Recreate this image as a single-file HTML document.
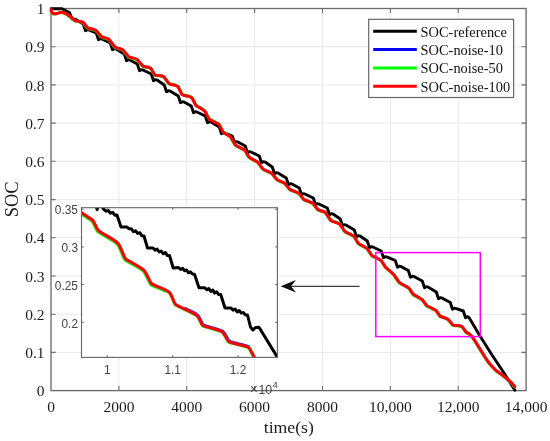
<!DOCTYPE html>
<html lang="en"><head><meta charset="utf-8"><title>SOC estimation under noise</title>
<style>
html,body{margin:0;padding:0;background:#fff;}
body{width:550px;height:441px;overflow:hidden;position:relative;font-family:"Liberation Serif","Times New Roman",serif;}
svg text{white-space:pre;}
</style></head><body>
<svg width="550" height="441" viewBox="0 0 550 441" style="position:absolute;left:0;top:0">
<rect x="0" y="0" width="550" height="441" fill="#fff"/>
<path d="M118.9 8.5 V390.6 M186.7 8.5 V390.6 M254.6 8.5 V390.6 M322.5 8.5 V390.6 M390.4 8.5 V390.6 M458.2 8.5 V390.6 M51.0 352.4 H526.1 M51.0 314.2 H526.1 M51.0 276.0 H526.1 M51.0 237.8 H526.1 M51.0 199.6 H526.1 M51.0 161.3 H526.1 M51.0 123.1 H526.1 M51.0 84.9 H526.1 M51.0 46.7 H526.1" stroke="#e8e8e8" stroke-width="1" fill="none"/>
<rect x="51.0" y="8.5" width="475.1" height="382.1" fill="none" stroke="#6c6c6c" stroke-width="1.35"/>
<path d="M118.9 390.6 v-4.6 M118.9 8.5 v4.6 M186.7 390.6 v-4.6 M186.7 8.5 v4.6 M254.6 390.6 v-4.6 M254.6 8.5 v4.6 M322.5 390.6 v-4.6 M322.5 8.5 v4.6 M390.4 390.6 v-4.6 M390.4 8.5 v4.6 M458.2 390.6 v-4.6 M458.2 8.5 v4.6 M51.0 352.4 h4.6 M526.1 352.4 h-4.6 M51.0 314.2 h4.6 M526.1 314.2 h-4.6 M51.0 276.0 h4.6 M526.1 276.0 h-4.6 M51.0 237.8 h4.6 M526.1 237.8 h-4.6 M51.0 199.6 h4.6 M526.1 199.6 h-4.6 M51.0 161.3 h4.6 M526.1 161.3 h-4.6 M51.0 123.1 h4.6 M526.1 123.1 h-4.6 M51.0 84.9 h4.6 M526.1 84.9 h-4.6 M51.0 46.7 h4.6 M526.1 46.7 h-4.6" stroke="#6c6c6c" stroke-width="1.1" fill="none"/>
<defs><clipPath id="cm"><rect x="51.0" y="7.0" width="475.1" height="384.6"/></clipPath><clipPath id="cgA"><rect x="0" y="0" width="172" height="441"/><rect x="230" y="0" width="100" height="441"/><rect x="342" y="0" width="208" height="441"/></clipPath><clipPath id="cgB"><rect x="172" y="0" width="58" height="441"/><rect x="330" y="0" width="12" height="441"/></clipPath><clipPath id="ciL"><rect x="81.5" y="207.4" width="83.5" height="150"/></clipPath><clipPath id="ciR"><rect x="165" y="207.4" width="112.5" height="150"/></clipPath><clipPath id="ciB"><rect x="185" y="207.4" width="65" height="150"/></clipPath><clipPath id="ci"><rect x="81.5" y="207.7" width="195.9" height="149.7"/></clipPath></defs>
<g fill="none" stroke-linejoin="round" stroke-linecap="round">
<path d="M51.2 8.8 L62.0 8.8 L69.5 12.5 L72.0 19.0 L75.4 19.2 L83.3 24.0 L85.5 30.7 L87.2 29.7 L89.4 30.2 L96.3 33.0 L98.5 39.7 L100.2 38.7 L102.4 39.2 L110.3 43.0 L112.5 49.7 L114.2 48.7 L116.4 49.2 L124.3 54.0 L126.5 60.7 L128.2 59.7 L130.4 60.2 L137.3 64.0 L139.5 70.7 L141.2 69.7 L143.4 70.2 L151.3 74.0 L153.5 80.7 L155.2 79.7 L157.4 80.2 L164.3 85.0 L166.5 91.7 L168.2 90.7 L170.4 91.2 L178.3 96.0 L180.5 102.7 L182.2 101.7 L184.4 102.2 L191.3 106.0 L193.5 112.7 L195.2 111.7 L197.4 112.2 L205.3 116.0 L207.5 122.7 L209.2 121.7 L211.4 122.2 L219.3 127.0 L221.5 133.7 L223.2 132.7 L225.4 133.2 L232.3 136.0 L234.5 142.7 L236.2 141.7 L238.4 142.2 L245.3 146.0 L247.5 152.7 L249.2 151.7 L251.4 152.2 L259.3 156.0 L261.5 162.7 L263.2 161.7 L265.4 162.2 L272.3 167.0 L274.5 173.7 L276.2 172.7 L278.4 173.2 L286.3 178.0 L288.5 184.7 L290.2 183.7 L292.4 184.2 L299.3 188.0 L301.5 194.7 L303.2 193.7 L305.4 194.2 L313.3 198.0 L315.5 204.7 L317.2 203.7 L319.4 204.2 L327.3 208.0 L329.5 214.7 L331.2 213.7 L333.4 214.2 L340.3 219.0 L342.5 225.7 L344.2 224.7 L346.4 225.2 L354.3 230.0 L356.5 236.7 L358.2 235.7 L360.4 236.2 L367.3 241.0 L369.5 247.7 L371.2 246.7 L373.4 247.2 L381.3 251.0 L383.5 257.7 L385.2 256.7 L387.4 257.2 L395.3 260.5 L397.5 267.2 L399.2 266.2 L401.4 266.7 L408.3 270.5 L410.5 277.2 L412.2 276.2 L414.4 276.7 L422.3 281.0 L424.5 287.7 L426.2 286.7 L428.4 287.2 L436.3 292.0 L438.5 298.7 L440.2 297.7 L442.4 298.2 L450.3 302.5 L452.5 309.2 L454.2 308.2 L456.4 308.7 L463.3 311.0 L465.5 317.7 L467.2 316.7 L469.0 317.5 L480.0 336.0 L492.0 355.0 L504.0 373.0 L514.9 390.3" stroke="#000" stroke-width="2.9"/>
<path d="M51.2 9.6 C51.3 9.9 51.5 12.0 51.8 12.4 C52.1 12.8 53.5 13.6 54.0 13.7 C54.5 13.8 56.5 13.6 57.0 13.5 C57.5 13.4 59.0 12.7 59.5 12.6 C60.0 12.5 61.4 12.1 62.0 12.2 C62.6 12.3 65.1 13.1 66.0 13.6 C66.9 14.1 70.1 16.3 71.0 17.0 C71.9 17.7 74.2 20.2 75.0 20.6 C75.8 21.0 78.2 21.2 79.0 21.4 C79.8 21.6 82.1 21.6 83.0 22.3 C83.9 23.0 87.1 27.3 88.0 28.0 C88.9 28.7 91.2 28.8 92.0 29.0 C92.8 29.2 95.0 29.5 96.0 30.3 C97.0 31.1 101.0 36.2 102.0 37.0 C103.0 37.8 104.8 37.8 105.5 38.0 C106.2 38.2 108.0 38.4 109.0 39.3 C110.0 40.2 114.0 46.1 115.0 47.0 C116.0 47.9 118.2 48.2 119.0 48.5 C119.8 48.8 122.0 49.1 123.0 50.0 C124.0 50.9 128.0 56.2 129.0 57.0 C130.0 57.8 132.2 57.8 133.0 58.0 C133.8 58.2 136.0 58.5 137.0 59.3 C138.0 60.1 142.0 65.2 143.0 66.0 C144.0 66.8 146.2 66.8 147.0 67.0 C147.8 67.2 150.2 67.7 151.0 68.5 C151.8 69.3 154.1 74.3 155.0 75.0 C155.9 75.7 159.1 75.4 160.0 75.6 C160.9 75.8 163.1 76.0 164.0 76.8 C164.9 77.6 168.0 82.7 169.0 83.5 C170.0 84.3 173.1 84.7 174.0 85.0 C174.9 85.3 177.2 85.8 178.0 86.8 C178.8 87.8 181.1 93.6 182.0 94.5 C182.9 95.4 186.0 95.7 187.0 96.0 C188.0 96.3 191.1 97.0 192.0 98.0 C192.9 99.0 195.1 104.5 196.0 105.5 C196.9 106.5 200.1 107.9 201.0 108.5 C201.9 109.1 204.2 110.5 205.0 111.5 C205.8 112.5 208.1 118.0 209.0 119.0 C209.9 120.0 213.0 121.2 214.0 121.8 C215.0 122.3 218.1 123.5 219.0 124.5 C219.9 125.5 222.2 131.0 223.0 132.0 C223.8 133.0 226.2 134.1 227.0 134.7 C227.8 135.2 230.2 136.5 231.0 137.5 C231.8 138.5 234.6 144.0 235.5 145.0 C236.4 146.0 239.1 147.0 240.0 147.5 C240.9 148.0 244.1 149.4 245.0 150.3 C245.9 151.2 248.1 156.0 249.0 157.0 C249.9 158.0 253.1 159.5 254.0 160.0 C254.9 160.5 257.1 161.5 258.0 162.4 C258.9 163.3 262.0 168.1 263.0 169.0 C264.0 169.9 267.1 171.0 268.0 171.4 C268.9 171.8 271.1 172.7 272.0 173.5 C272.9 174.3 276.1 178.7 277.0 179.5 C277.9 180.3 280.2 181.1 281.0 181.5 C281.8 181.9 284.1 182.7 285.0 183.5 C285.9 184.3 289.0 188.7 290.0 189.5 C291.0 190.3 294.1 191.1 295.0 191.5 C295.9 191.9 298.1 192.7 299.0 193.5 C299.9 194.3 303.0 198.7 304.0 199.5 C305.0 200.3 308.1 201.1 309.0 201.5 C309.9 201.9 312.1 202.7 313.0 203.5 C313.9 204.3 317.1 208.8 318.0 209.5 C318.9 210.2 321.2 210.7 322.0 211.0 C322.8 211.3 324.6 211.7 325.5 212.6 C326.4 213.5 329.9 219.5 331.0 220.5 C332.1 221.5 335.1 222.1 336.0 222.5 C336.9 222.9 339.1 223.6 340.0 224.5 C340.9 225.4 344.0 230.6 345.0 231.5 C346.0 232.4 349.1 233.5 350.0 234.0 C350.9 234.5 353.1 235.4 354.0 236.3 C354.9 237.2 357.6 242.5 358.5 243.5 C359.4 244.5 362.1 245.5 363.0 246.0 C363.9 246.5 366.1 247.4 367.0 248.3 C367.9 249.2 371.0 254.5 372.0 255.5 C373.0 256.5 376.1 257.5 377.0 258.0 C377.9 258.5 380.1 259.4 381.0 260.3 C381.9 261.2 384.6 265.9 385.5 267.0 C386.4 268.1 389.1 270.2 390.0 271.0 C390.9 271.8 393.1 273.7 394.0 274.8 C394.9 275.9 398.0 281.0 399.0 282.0 C400.0 283.0 403.0 284.6 404.0 285.2 C405.0 285.8 408.1 287.3 409.0 288.2 C409.9 289.1 412.1 293.1 413.0 294.0 C413.9 294.9 417.1 296.5 418.0 297.0 C418.9 297.5 421.1 298.5 422.0 299.3 C422.9 300.1 425.6 304.4 426.5 305.3 C427.4 306.2 430.1 307.3 431.0 307.8 C431.9 308.3 435.1 309.5 436.0 310.3 C436.9 311.1 439.2 315.3 440.0 316.0 C440.8 316.7 443.2 317.2 444.0 317.5 C444.8 317.8 447.1 318.4 448.0 319.2 C448.9 319.9 452.1 324.4 453.0 325.0 C453.9 325.6 456.1 325.4 457.0 325.5 C457.9 325.6 461.1 325.9 462.0 326.5 C462.9 327.1 465.3 331.3 466.0 332.0 C466.7 332.7 468.4 333.2 469.0 333.6 C469.6 334.1 471.3 335.6 472.0 336.5 C472.7 337.4 475.2 341.2 476.0 342.5 C476.8 343.8 479.1 347.6 480.0 349.0 C480.9 350.4 484.0 355.5 485.0 357.0 C486.0 358.5 488.9 362.7 490.0 364.0 C491.1 365.3 495.0 369.4 496.0 370.3 C497.0 371.2 499.2 372.7 500.0 373.3 C500.8 373.9 503.1 375.6 504.0 376.3 C504.9 377.0 508.2 379.8 509.0 380.5 C509.8 381.2 511.4 382.6 512.0 383.2 C512.6 383.8 514.5 386.3 514.8 386.6" stroke="#1a1ae6" stroke-width="2.4"/>
<g clip-path="url(#cgA)"><path d="M51.2 9.6 C51.3 9.9 51.5 12.0 51.8 12.4 C52.1 12.8 53.5 13.6 54.0 13.7 C54.5 13.8 56.5 13.6 57.0 13.5 C57.5 13.4 59.0 12.7 59.5 12.6 C60.0 12.5 61.4 12.1 62.0 12.2 C62.6 12.3 65.1 13.1 66.0 13.6 C66.9 14.1 70.1 16.3 71.0 17.0 C71.9 17.7 74.2 20.2 75.0 20.6 C75.8 21.0 78.2 21.2 79.0 21.4 C79.8 21.6 82.1 21.6 83.0 22.3 C83.9 23.0 87.1 27.3 88.0 28.0 C88.9 28.7 91.2 28.8 92.0 29.0 C92.8 29.2 95.0 29.5 96.0 30.3 C97.0 31.1 101.0 36.2 102.0 37.0 C103.0 37.8 104.8 37.8 105.5 38.0 C106.2 38.2 108.0 38.4 109.0 39.3 C110.0 40.2 114.0 46.1 115.0 47.0 C116.0 47.9 118.2 48.2 119.0 48.5 C119.8 48.8 122.0 49.1 123.0 50.0 C124.0 50.9 128.0 56.2 129.0 57.0 C130.0 57.8 132.2 57.8 133.0 58.0 C133.8 58.2 136.0 58.5 137.0 59.3 C138.0 60.1 142.0 65.2 143.0 66.0 C144.0 66.8 146.2 66.8 147.0 67.0 C147.8 67.2 150.2 67.7 151.0 68.5 C151.8 69.3 154.1 74.3 155.0 75.0 C155.9 75.7 159.1 75.4 160.0 75.6 C160.9 75.8 163.1 76.0 164.0 76.8 C164.9 77.6 168.0 82.7 169.0 83.5 C170.0 84.3 173.1 84.7 174.0 85.0 C174.9 85.3 177.2 85.8 178.0 86.8 C178.8 87.8 181.1 93.6 182.0 94.5 C182.9 95.4 186.0 95.7 187.0 96.0 C188.0 96.3 191.1 97.0 192.0 98.0 C192.9 99.0 195.1 104.5 196.0 105.5 C196.9 106.5 200.1 107.9 201.0 108.5 C201.9 109.1 204.2 110.5 205.0 111.5 C205.8 112.5 208.1 118.0 209.0 119.0 C209.9 120.0 213.0 121.2 214.0 121.8 C215.0 122.3 218.1 123.5 219.0 124.5 C219.9 125.5 222.2 131.0 223.0 132.0 C223.8 133.0 226.2 134.1 227.0 134.7 C227.8 135.2 230.2 136.5 231.0 137.5 C231.8 138.5 234.6 144.0 235.5 145.0 C236.4 146.0 239.1 147.0 240.0 147.5 C240.9 148.0 244.1 149.4 245.0 150.3 C245.9 151.2 248.1 156.0 249.0 157.0 C249.9 158.0 253.1 159.5 254.0 160.0 C254.9 160.5 257.1 161.5 258.0 162.4 C258.9 163.3 262.0 168.1 263.0 169.0 C264.0 169.9 267.1 171.0 268.0 171.4 C268.9 171.8 271.1 172.7 272.0 173.5 C272.9 174.3 276.1 178.7 277.0 179.5 C277.9 180.3 280.2 181.1 281.0 181.5 C281.8 181.9 284.1 182.7 285.0 183.5 C285.9 184.3 289.0 188.7 290.0 189.5 C291.0 190.3 294.1 191.1 295.0 191.5 C295.9 191.9 298.1 192.7 299.0 193.5 C299.9 194.3 303.0 198.7 304.0 199.5 C305.0 200.3 308.1 201.1 309.0 201.5 C309.9 201.9 312.1 202.7 313.0 203.5 C313.9 204.3 317.1 208.8 318.0 209.5 C318.9 210.2 321.2 210.7 322.0 211.0 C322.8 211.3 324.6 211.7 325.5 212.6 C326.4 213.5 329.9 219.5 331.0 220.5 C332.1 221.5 335.1 222.1 336.0 222.5 C336.9 222.9 339.1 223.6 340.0 224.5 C340.9 225.4 344.0 230.6 345.0 231.5 C346.0 232.4 349.1 233.5 350.0 234.0 C350.9 234.5 353.1 235.4 354.0 236.3 C354.9 237.2 357.6 242.5 358.5 243.5 C359.4 244.5 362.1 245.5 363.0 246.0 C363.9 246.5 366.1 247.4 367.0 248.3 C367.9 249.2 371.0 254.5 372.0 255.5 C373.0 256.5 376.1 257.5 377.0 258.0 C377.9 258.5 380.1 259.4 381.0 260.3 C381.9 261.2 384.6 265.9 385.5 267.0 C386.4 268.1 389.1 270.2 390.0 271.0 C390.9 271.8 393.1 273.7 394.0 274.8 C394.9 275.9 398.0 281.0 399.0 282.0 C400.0 283.0 403.0 284.6 404.0 285.2 C405.0 285.8 408.1 287.3 409.0 288.2 C409.9 289.1 412.1 293.1 413.0 294.0 C413.9 294.9 417.1 296.5 418.0 297.0 C418.9 297.5 421.1 298.5 422.0 299.3 C422.9 300.1 425.6 304.4 426.5 305.3 C427.4 306.2 430.1 307.3 431.0 307.8 C431.9 308.3 435.1 309.5 436.0 310.3 C436.9 311.1 439.2 315.3 440.0 316.0 C440.8 316.7 443.2 317.2 444.0 317.5 C444.8 317.8 447.1 318.4 448.0 319.2 C448.9 319.9 452.1 324.4 453.0 325.0 C453.9 325.6 456.1 325.4 457.0 325.5 C457.9 325.6 461.1 325.9 462.0 326.5 C462.9 327.1 465.3 331.3 466.0 332.0 C466.7 332.7 468.4 333.2 469.0 333.6 C469.6 334.1 471.3 335.6 472.0 336.5 C472.7 337.4 475.2 341.2 476.0 342.5 C476.8 343.8 479.1 347.6 480.0 349.0 C480.9 350.4 484.0 355.5 485.0 357.0 C486.0 358.5 488.9 362.7 490.0 364.0 C491.1 365.3 495.0 369.4 496.0 370.3 C497.0 371.2 499.2 372.7 500.0 373.3 C500.8 373.9 503.1 375.6 504.0 376.3 C504.9 377.0 508.2 379.8 509.0 380.5 C509.8 381.2 511.4 382.6 512.0 383.2 C512.6 383.8 514.5 386.3 514.8 386.6" stroke="#2fe02f" stroke-width="2.6" transform="translate(-0.35,0.5)"/></g>
<g clip-path="url(#cgB)"><path d="M51.2 9.6 C51.3 9.9 51.5 12.0 51.8 12.4 C52.1 12.8 53.5 13.6 54.0 13.7 C54.5 13.8 56.5 13.6 57.0 13.5 C57.5 13.4 59.0 12.7 59.5 12.6 C60.0 12.5 61.4 12.1 62.0 12.2 C62.6 12.3 65.1 13.1 66.0 13.6 C66.9 14.1 70.1 16.3 71.0 17.0 C71.9 17.7 74.2 20.2 75.0 20.6 C75.8 21.0 78.2 21.2 79.0 21.4 C79.8 21.6 82.1 21.6 83.0 22.3 C83.9 23.0 87.1 27.3 88.0 28.0 C88.9 28.7 91.2 28.8 92.0 29.0 C92.8 29.2 95.0 29.5 96.0 30.3 C97.0 31.1 101.0 36.2 102.0 37.0 C103.0 37.8 104.8 37.8 105.5 38.0 C106.2 38.2 108.0 38.4 109.0 39.3 C110.0 40.2 114.0 46.1 115.0 47.0 C116.0 47.9 118.2 48.2 119.0 48.5 C119.8 48.8 122.0 49.1 123.0 50.0 C124.0 50.9 128.0 56.2 129.0 57.0 C130.0 57.8 132.2 57.8 133.0 58.0 C133.8 58.2 136.0 58.5 137.0 59.3 C138.0 60.1 142.0 65.2 143.0 66.0 C144.0 66.8 146.2 66.8 147.0 67.0 C147.8 67.2 150.2 67.7 151.0 68.5 C151.8 69.3 154.1 74.3 155.0 75.0 C155.9 75.7 159.1 75.4 160.0 75.6 C160.9 75.8 163.1 76.0 164.0 76.8 C164.9 77.6 168.0 82.7 169.0 83.5 C170.0 84.3 173.1 84.7 174.0 85.0 C174.9 85.3 177.2 85.8 178.0 86.8 C178.8 87.8 181.1 93.6 182.0 94.5 C182.9 95.4 186.0 95.7 187.0 96.0 C188.0 96.3 191.1 97.0 192.0 98.0 C192.9 99.0 195.1 104.5 196.0 105.5 C196.9 106.5 200.1 107.9 201.0 108.5 C201.9 109.1 204.2 110.5 205.0 111.5 C205.8 112.5 208.1 118.0 209.0 119.0 C209.9 120.0 213.0 121.2 214.0 121.8 C215.0 122.3 218.1 123.5 219.0 124.5 C219.9 125.5 222.2 131.0 223.0 132.0 C223.8 133.0 226.2 134.1 227.0 134.7 C227.8 135.2 230.2 136.5 231.0 137.5 C231.8 138.5 234.6 144.0 235.5 145.0 C236.4 146.0 239.1 147.0 240.0 147.5 C240.9 148.0 244.1 149.4 245.0 150.3 C245.9 151.2 248.1 156.0 249.0 157.0 C249.9 158.0 253.1 159.5 254.0 160.0 C254.9 160.5 257.1 161.5 258.0 162.4 C258.9 163.3 262.0 168.1 263.0 169.0 C264.0 169.9 267.1 171.0 268.0 171.4 C268.9 171.8 271.1 172.7 272.0 173.5 C272.9 174.3 276.1 178.7 277.0 179.5 C277.9 180.3 280.2 181.1 281.0 181.5 C281.8 181.9 284.1 182.7 285.0 183.5 C285.9 184.3 289.0 188.7 290.0 189.5 C291.0 190.3 294.1 191.1 295.0 191.5 C295.9 191.9 298.1 192.7 299.0 193.5 C299.9 194.3 303.0 198.7 304.0 199.5 C305.0 200.3 308.1 201.1 309.0 201.5 C309.9 201.9 312.1 202.7 313.0 203.5 C313.9 204.3 317.1 208.8 318.0 209.5 C318.9 210.2 321.2 210.7 322.0 211.0 C322.8 211.3 324.6 211.7 325.5 212.6 C326.4 213.5 329.9 219.5 331.0 220.5 C332.1 221.5 335.1 222.1 336.0 222.5 C336.9 222.9 339.1 223.6 340.0 224.5 C340.9 225.4 344.0 230.6 345.0 231.5 C346.0 232.4 349.1 233.5 350.0 234.0 C350.9 234.5 353.1 235.4 354.0 236.3 C354.9 237.2 357.6 242.5 358.5 243.5 C359.4 244.5 362.1 245.5 363.0 246.0 C363.9 246.5 366.1 247.4 367.0 248.3 C367.9 249.2 371.0 254.5 372.0 255.5 C373.0 256.5 376.1 257.5 377.0 258.0 C377.9 258.5 380.1 259.4 381.0 260.3 C381.9 261.2 384.6 265.9 385.5 267.0 C386.4 268.1 389.1 270.2 390.0 271.0 C390.9 271.8 393.1 273.7 394.0 274.8 C394.9 275.9 398.0 281.0 399.0 282.0 C400.0 283.0 403.0 284.6 404.0 285.2 C405.0 285.8 408.1 287.3 409.0 288.2 C409.9 289.1 412.1 293.1 413.0 294.0 C413.9 294.9 417.1 296.5 418.0 297.0 C418.9 297.5 421.1 298.5 422.0 299.3 C422.9 300.1 425.6 304.4 426.5 305.3 C427.4 306.2 430.1 307.3 431.0 307.8 C431.9 308.3 435.1 309.5 436.0 310.3 C436.9 311.1 439.2 315.3 440.0 316.0 C440.8 316.7 443.2 317.2 444.0 317.5 C444.8 317.8 447.1 318.4 448.0 319.2 C448.9 319.9 452.1 324.4 453.0 325.0 C453.9 325.6 456.1 325.4 457.0 325.5 C457.9 325.6 461.1 325.9 462.0 326.5 C462.9 327.1 465.3 331.3 466.0 332.0 C466.7 332.7 468.4 333.2 469.0 333.6 C469.6 334.1 471.3 335.6 472.0 336.5 C472.7 337.4 475.2 341.2 476.0 342.5 C476.8 343.8 479.1 347.6 480.0 349.0 C480.9 350.4 484.0 355.5 485.0 357.0 C486.0 358.5 488.9 362.7 490.0 364.0 C491.1 365.3 495.0 369.4 496.0 370.3 C497.0 371.2 499.2 372.7 500.0 373.3 C500.8 373.9 503.1 375.6 504.0 376.3 C504.9 377.0 508.2 379.8 509.0 380.5 C509.8 381.2 511.4 382.6 512.0 383.2 C512.6 383.8 514.5 386.3 514.8 386.6" stroke="#2fe02f" stroke-width="2.6" transform="translate(0.3,-0.55)"/></g>
<path d="M51.2 9.6 C51.3 9.9 51.5 12.0 51.8 12.4 C52.1 12.8 53.5 13.6 54.0 13.7 C54.5 13.8 56.5 13.6 57.0 13.5 C57.5 13.4 59.0 12.7 59.5 12.6 C60.0 12.5 61.4 12.1 62.0 12.2 C62.6 12.3 65.1 13.1 66.0 13.6 C66.9 14.1 70.1 16.3 71.0 17.0 C71.9 17.7 74.2 20.2 75.0 20.6 C75.8 21.0 78.2 21.2 79.0 21.4 C79.8 21.6 82.1 21.6 83.0 22.3 C83.9 23.0 87.1 27.3 88.0 28.0 C88.9 28.7 91.2 28.8 92.0 29.0 C92.8 29.2 95.0 29.5 96.0 30.3 C97.0 31.1 101.0 36.2 102.0 37.0 C103.0 37.8 104.8 37.8 105.5 38.0 C106.2 38.2 108.0 38.4 109.0 39.3 C110.0 40.2 114.0 46.1 115.0 47.0 C116.0 47.9 118.2 48.2 119.0 48.5 C119.8 48.8 122.0 49.1 123.0 50.0 C124.0 50.9 128.0 56.2 129.0 57.0 C130.0 57.8 132.2 57.8 133.0 58.0 C133.8 58.2 136.0 58.5 137.0 59.3 C138.0 60.1 142.0 65.2 143.0 66.0 C144.0 66.8 146.2 66.8 147.0 67.0 C147.8 67.2 150.2 67.7 151.0 68.5 C151.8 69.3 154.1 74.3 155.0 75.0 C155.9 75.7 159.1 75.4 160.0 75.6 C160.9 75.8 163.1 76.0 164.0 76.8 C164.9 77.6 168.0 82.7 169.0 83.5 C170.0 84.3 173.1 84.7 174.0 85.0 C174.9 85.3 177.2 85.8 178.0 86.8 C178.8 87.8 181.1 93.6 182.0 94.5 C182.9 95.4 186.0 95.7 187.0 96.0 C188.0 96.3 191.1 97.0 192.0 98.0 C192.9 99.0 195.1 104.5 196.0 105.5 C196.9 106.5 200.1 107.9 201.0 108.5 C201.9 109.1 204.2 110.5 205.0 111.5 C205.8 112.5 208.1 118.0 209.0 119.0 C209.9 120.0 213.0 121.2 214.0 121.8 C215.0 122.3 218.1 123.5 219.0 124.5 C219.9 125.5 222.2 131.0 223.0 132.0 C223.8 133.0 226.2 134.1 227.0 134.7 C227.8 135.2 230.2 136.5 231.0 137.5 C231.8 138.5 234.6 144.0 235.5 145.0 C236.4 146.0 239.1 147.0 240.0 147.5 C240.9 148.0 244.1 149.4 245.0 150.3 C245.9 151.2 248.1 156.0 249.0 157.0 C249.9 158.0 253.1 159.5 254.0 160.0 C254.9 160.5 257.1 161.5 258.0 162.4 C258.9 163.3 262.0 168.1 263.0 169.0 C264.0 169.9 267.1 171.0 268.0 171.4 C268.9 171.8 271.1 172.7 272.0 173.5 C272.9 174.3 276.1 178.7 277.0 179.5 C277.9 180.3 280.2 181.1 281.0 181.5 C281.8 181.9 284.1 182.7 285.0 183.5 C285.9 184.3 289.0 188.7 290.0 189.5 C291.0 190.3 294.1 191.1 295.0 191.5 C295.9 191.9 298.1 192.7 299.0 193.5 C299.9 194.3 303.0 198.7 304.0 199.5 C305.0 200.3 308.1 201.1 309.0 201.5 C309.9 201.9 312.1 202.7 313.0 203.5 C313.9 204.3 317.1 208.8 318.0 209.5 C318.9 210.2 321.2 210.7 322.0 211.0 C322.8 211.3 324.6 211.7 325.5 212.6 C326.4 213.5 329.9 219.5 331.0 220.5 C332.1 221.5 335.1 222.1 336.0 222.5 C336.9 222.9 339.1 223.6 340.0 224.5 C340.9 225.4 344.0 230.6 345.0 231.5 C346.0 232.4 349.1 233.5 350.0 234.0 C350.9 234.5 353.1 235.4 354.0 236.3 C354.9 237.2 357.6 242.5 358.5 243.5 C359.4 244.5 362.1 245.5 363.0 246.0 C363.9 246.5 366.1 247.4 367.0 248.3 C367.9 249.2 371.0 254.5 372.0 255.5 C373.0 256.5 376.1 257.5 377.0 258.0 C377.9 258.5 380.1 259.4 381.0 260.3 C381.9 261.2 384.6 265.9 385.5 267.0 C386.4 268.1 389.1 270.2 390.0 271.0 C390.9 271.8 393.1 273.7 394.0 274.8 C394.9 275.9 398.0 281.0 399.0 282.0 C400.0 283.0 403.0 284.6 404.0 285.2 C405.0 285.8 408.1 287.3 409.0 288.2 C409.9 289.1 412.1 293.1 413.0 294.0 C413.9 294.9 417.1 296.5 418.0 297.0 C418.9 297.5 421.1 298.5 422.0 299.3 C422.9 300.1 425.6 304.4 426.5 305.3 C427.4 306.2 430.1 307.3 431.0 307.8 C431.9 308.3 435.1 309.5 436.0 310.3 C436.9 311.1 439.2 315.3 440.0 316.0 C440.8 316.7 443.2 317.2 444.0 317.5 C444.8 317.8 447.1 318.4 448.0 319.2 C448.9 319.9 452.1 324.4 453.0 325.0 C453.9 325.6 456.1 325.4 457.0 325.5 C457.9 325.6 461.1 325.9 462.0 326.5 C462.9 327.1 465.3 331.3 466.0 332.0 C466.7 332.7 468.4 333.2 469.0 333.6 C469.6 334.1 471.3 335.6 472.0 336.5 C472.7 337.4 475.2 341.2 476.0 342.5 C476.8 343.8 479.1 347.6 480.0 349.0 C480.9 350.4 484.0 355.5 485.0 357.0 C486.0 358.5 488.9 362.7 490.0 364.0 C491.1 365.3 495.0 369.4 496.0 370.3 C497.0 371.2 499.2 372.7 500.0 373.3 C500.8 373.9 503.1 375.6 504.0 376.3 C504.9 377.0 508.2 379.8 509.0 380.5 C509.8 381.2 511.4 382.6 512.0 383.2 C512.6 383.8 514.5 386.3 514.8 386.6" stroke="#f00" stroke-width="3.0"/>
</g>
<rect x="375.8" y="252.6" width="104.5" height="84" fill="none" stroke="#f0f" stroke-width="1.5"/>
<rect x="81.5" y="207.7" width="195.9" height="149.7" fill="#fff"/>
<g fill="none" stroke-linejoin="round" stroke-linecap="round" clip-path="url(#ci)">
<path d="M81.0 195.0 L93.0 203.0 L95.9 205.0 L97.1 209.7 L98.3 205.3 L100.3 205.5 L102.6 207.6 L104.0 209.5 L106.2 211.2 L108.3 210.5 L110.5 213.2 L112.7 212.3 L114.8 215.2 L117.0 215.0 L121.0 227.0 L127.0 227.0 L129.1 228.8 L131.2 228.7 L133.4 231.6 L135.5 230.8 L137.6 233.4 L139.8 232.7 L141.9 235.8 L144.0 236.0 L147.5 248.0 L153.0 248.0 L155.1 250.1 L157.1 249.1 L159.2 251.9 L161.2 251.1 L163.3 253.8 L165.4 252.6 L167.4 255.6 L169.5 255.5 L173.2 268.0 L178.6 267.5 L180.6 269.5 L182.6 268.3 L184.6 270.8 L186.6 270.0 L188.5 272.8 L190.5 271.9 L192.5 274.1 L194.5 274.3 L199.0 287.7 L204.8 287.7 L206.8 289.8 L208.8 288.6 L210.8 291.4 L212.8 290.1 L214.7 293.1 L216.7 291.8 L218.7 294.6 L220.7 294.5 L225.0 308.0 L231.0 308.0 L233.1 310.1 L235.1 309.0 L237.2 311.9 L239.2 310.5 L241.3 313.1 L243.4 312.6 L245.4 314.9 L247.5 315.0 L250.5 327.0 L253.0 330.0 L255.5 327.5 L259.0 327.3 L277.5 357.4" stroke="#000" stroke-width="3.0"/>
<g clip-path="url(#ciB)"><path d="M80.5 211.8 C80.7 211.9 81.1 212.4 82.0 213.0 C82.9 213.6 86.7 216.1 88.0 217.0 C89.3 217.9 91.8 218.9 93.0 220.5 C94.2 222.1 96.8 228.4 98.0 230.0 C99.2 231.6 100.6 231.9 103.0 233.5 C105.4 235.1 115.4 240.3 118.0 243.2 C120.6 246.1 123.6 255.8 125.0 258.0 C126.4 260.2 127.7 260.0 130.0 261.5 C132.3 263.0 141.5 267.7 144.0 270.3 C146.5 272.9 149.6 281.1 151.0 283.0 C152.4 284.9 153.8 284.7 156.0 285.8 C158.2 286.9 167.2 290.2 169.5 292.3 C171.8 294.4 173.7 301.9 175.0 303.6 C176.3 305.3 177.4 305.4 180.0 306.8 C182.6 308.2 194.1 313.1 196.8 315.3 C199.5 317.5 201.3 323.6 202.5 325.0 C203.7 326.4 204.7 326.0 207.0 326.8 C209.3 327.6 219.4 329.9 222.0 331.6 C224.6 333.3 227.2 339.9 228.5 341.3 C229.8 342.7 230.7 342.3 233.0 343.0 C235.3 343.7 245.8 346.0 248.0 347.0 C250.2 348.0 250.2 349.7 251.0 351.0 C251.8 352.3 254.0 356.5 254.6 357.6 C255.2 358.7 255.8 359.7 256.0 360.0" stroke="#2a2aee" stroke-width="3" transform="translate(0.45,-0.5)"/></g>
<g clip-path="url(#ciL)"><path d="M80.5 211.8 C80.7 211.9 81.1 212.4 82.0 213.0 C82.9 213.6 86.7 216.1 88.0 217.0 C89.3 217.9 91.8 218.9 93.0 220.5 C94.2 222.1 96.8 228.4 98.0 230.0 C99.2 231.6 100.6 231.9 103.0 233.5 C105.4 235.1 115.4 240.3 118.0 243.2 C120.6 246.1 123.6 255.8 125.0 258.0 C126.4 260.2 127.7 260.0 130.0 261.5 C132.3 263.0 141.5 267.7 144.0 270.3 C146.5 272.9 149.6 281.1 151.0 283.0 C152.4 284.9 153.8 284.7 156.0 285.8 C158.2 286.9 167.2 290.2 169.5 292.3 C171.8 294.4 173.7 301.9 175.0 303.6 C176.3 305.3 177.4 305.4 180.0 306.8 C182.6 308.2 194.1 313.1 196.8 315.3 C199.5 317.5 201.3 323.6 202.5 325.0 C203.7 326.4 204.7 326.0 207.0 326.8 C209.3 327.6 219.4 329.9 222.0 331.6 C224.6 333.3 227.2 339.9 228.5 341.3 C229.8 342.7 230.7 342.3 233.0 343.0 C235.3 343.7 245.8 346.0 248.0 347.0 C250.2 348.0 250.2 349.7 251.0 351.0 C251.8 352.3 254.0 356.5 254.6 357.6 C255.2 358.7 255.8 359.7 256.0 360.0" stroke="#1fe51f" stroke-width="3" transform="translate(-0.7,1.0)"/></g>
<g clip-path="url(#ciR)"><path d="M80.5 211.8 C80.7 211.9 81.1 212.4 82.0 213.0 C82.9 213.6 86.7 216.1 88.0 217.0 C89.3 217.9 91.8 218.9 93.0 220.5 C94.2 222.1 96.8 228.4 98.0 230.0 C99.2 231.6 100.6 231.9 103.0 233.5 C105.4 235.1 115.4 240.3 118.0 243.2 C120.6 246.1 123.6 255.8 125.0 258.0 C126.4 260.2 127.7 260.0 130.0 261.5 C132.3 263.0 141.5 267.7 144.0 270.3 C146.5 272.9 149.6 281.1 151.0 283.0 C152.4 284.9 153.8 284.7 156.0 285.8 C158.2 286.9 167.2 290.2 169.5 292.3 C171.8 294.4 173.7 301.9 175.0 303.6 C176.3 305.3 177.4 305.4 180.0 306.8 C182.6 308.2 194.1 313.1 196.8 315.3 C199.5 317.5 201.3 323.6 202.5 325.0 C203.7 326.4 204.7 326.0 207.0 326.8 C209.3 327.6 219.4 329.9 222.0 331.6 C224.6 333.3 227.2 339.9 228.5 341.3 C229.8 342.7 230.7 342.3 233.0 343.0 C235.3 343.7 245.8 346.0 248.0 347.0 C250.2 348.0 250.2 349.7 251.0 351.0 C251.8 352.3 254.0 356.5 254.6 357.6 C255.2 358.7 255.8 359.7 256.0 360.0" stroke="#1fe51f" stroke-width="3" transform="translate(-0.3,0.4)"/></g>
<path d="M80.5 211.8 C80.7 211.9 81.1 212.4 82.0 213.0 C82.9 213.6 86.7 216.1 88.0 217.0 C89.3 217.9 91.8 218.9 93.0 220.5 C94.2 222.1 96.8 228.4 98.0 230.0 C99.2 231.6 100.6 231.9 103.0 233.5 C105.4 235.1 115.4 240.3 118.0 243.2 C120.6 246.1 123.6 255.8 125.0 258.0 C126.4 260.2 127.7 260.0 130.0 261.5 C132.3 263.0 141.5 267.7 144.0 270.3 C146.5 272.9 149.6 281.1 151.0 283.0 C152.4 284.9 153.8 284.7 156.0 285.8 C158.2 286.9 167.2 290.2 169.5 292.3 C171.8 294.4 173.7 301.9 175.0 303.6 C176.3 305.3 177.4 305.4 180.0 306.8 C182.6 308.2 194.1 313.1 196.8 315.3 C199.5 317.5 201.3 323.6 202.5 325.0 C203.7 326.4 204.7 326.0 207.0 326.8 C209.3 327.6 219.4 329.9 222.0 331.6 C224.6 333.3 227.2 339.9 228.5 341.3 C229.8 342.7 230.7 342.3 233.0 343.0 C235.3 343.7 245.8 346.0 248.0 347.0 C250.2 348.0 250.2 349.7 251.0 351.0 C251.8 352.3 254.0 356.5 254.6 357.6 C255.2 358.7 255.8 359.7 256.0 360.0" stroke="#f00" stroke-width="3"/>
</g>
<rect x="81.5" y="207.7" width="195.9" height="149.7" fill="none" stroke="#646464" stroke-width="1.1"/>
<path d="M107.3 357.4 v-2.2 M107.3 207.7 v2.2 M172.7 357.4 v-2.2 M172.7 207.7 v2.2 M238.0 357.4 v-2.2 M238.0 207.7 v2.2 M81.5 209.2 h2.2 M277.4 209.2 h-2.2 M81.5 246.9 h2.2 M277.4 246.9 h-2.2 M81.5 284.6 h2.2 M277.4 284.6 h-2.2 M81.5 322.3 h2.2 M277.4 322.3 h-2.2" stroke="#646464" stroke-width="1" fill="none"/>
<g font-family="'Liberation Sans', Arial, sans-serif" font-size="11.9" fill="#444">
<text x="78" y="214.4" text-anchor="end">0.35</text>
<text x="78" y="252.1" text-anchor="end">0.3</text>
<text x="78" y="289.8" text-anchor="end">0.25</text>
<text x="78" y="327.5" text-anchor="end">0.2</text>
<text x="107.3" y="373.8" text-anchor="middle">1</text>
<text x="172.7" y="373.8" text-anchor="middle">1.1</text>
<text x="238.0" y="373.8" text-anchor="middle">1.2</text>
<text x="249.8" y="393.7" font-size="11.6"><tspan font-size="14">×</tspan><tspan dx="0.4" font-size="12.4">10</tspan><tspan dy="-5.6" dx="0.4" font-size="9.6">4</tspan></text>
</g>
<path d="M359.6 286.3 H290" stroke="#3c3c3c" stroke-width="1.2" fill="none"/>
<path d="M280.6 286.3 L296 280.1 L291 286.3 L296 292.5 Z" fill="#111"/>
<rect x="368.7" y="19.3" width="144.9" height="78.2" fill="#fff" stroke="#666" stroke-width="1.2"/>
<path d="M373.2 31.2 H416.8" stroke="#000" stroke-width="3" fill="none"/>
<path d="M373.2 49.6 H416.8" stroke="#00f" stroke-width="3" fill="none"/>
<path d="M373.2 67.9 H416.8" stroke="#0f0" stroke-width="3" fill="none"/>
<path d="M373.2 86.2 H416.8" stroke="#f00" stroke-width="3" fill="none"/>
<g font-family="'Liberation Serif', 'Times New Roman', serif" font-size="14.4" fill="#111">
<text x="420.6" y="36.6">SOC-reference</text>
<text x="420.6" y="55.0">SOC-noise-10</text>
<text x="420.6" y="73.3">SOC-noise-50</text>
<text x="420.6" y="91.6">SOC-noise-100</text>
</g>
<g font-family="'Liberation Serif', 'Times New Roman', serif" font-size="15.5" fill="#1c1c1c">
<text x="44.6" y="396.2" text-anchor="end">0</text>
<text x="44.6" y="358.0" text-anchor="end">0.1</text>
<text x="44.6" y="319.8" text-anchor="end">0.2</text>
<text x="44.6" y="281.6" text-anchor="end">0.3</text>
<text x="44.6" y="243.4" text-anchor="end">0.4</text>
<text x="44.6" y="205.2" text-anchor="end">0.5</text>
<text x="44.6" y="166.9" text-anchor="end">0.6</text>
<text x="44.6" y="128.7" text-anchor="end">0.7</text>
<text x="44.6" y="90.5" text-anchor="end">0.8</text>
<text x="44.6" y="52.3" text-anchor="end">0.9</text>
<text x="44.6" y="14.1" text-anchor="end">1</text>
<text x="51.0" y="412.3" text-anchor="middle">0</text>
<text x="118.9" y="412.3" text-anchor="middle">2000</text>
<text x="186.7" y="412.3" text-anchor="middle">4000</text>
<text x="254.6" y="412.3" text-anchor="middle">6000</text>
<text x="322.5" y="412.3" text-anchor="middle">8000</text>
<text x="390.4" y="412.3" text-anchor="middle">10,000</text>
<text x="458.2" y="412.3" text-anchor="middle">12,000</text>
<text x="526.1" y="412.3" text-anchor="middle">14,000</text>
<text x="288.8" y="433.0" text-anchor="middle" font-size="17.7">time(s)</text>
<text transform="translate(17.6,199.3) rotate(-90)" text-anchor="middle" font-size="18.5">SOC</text>
</g>
</svg>
</body></html>
